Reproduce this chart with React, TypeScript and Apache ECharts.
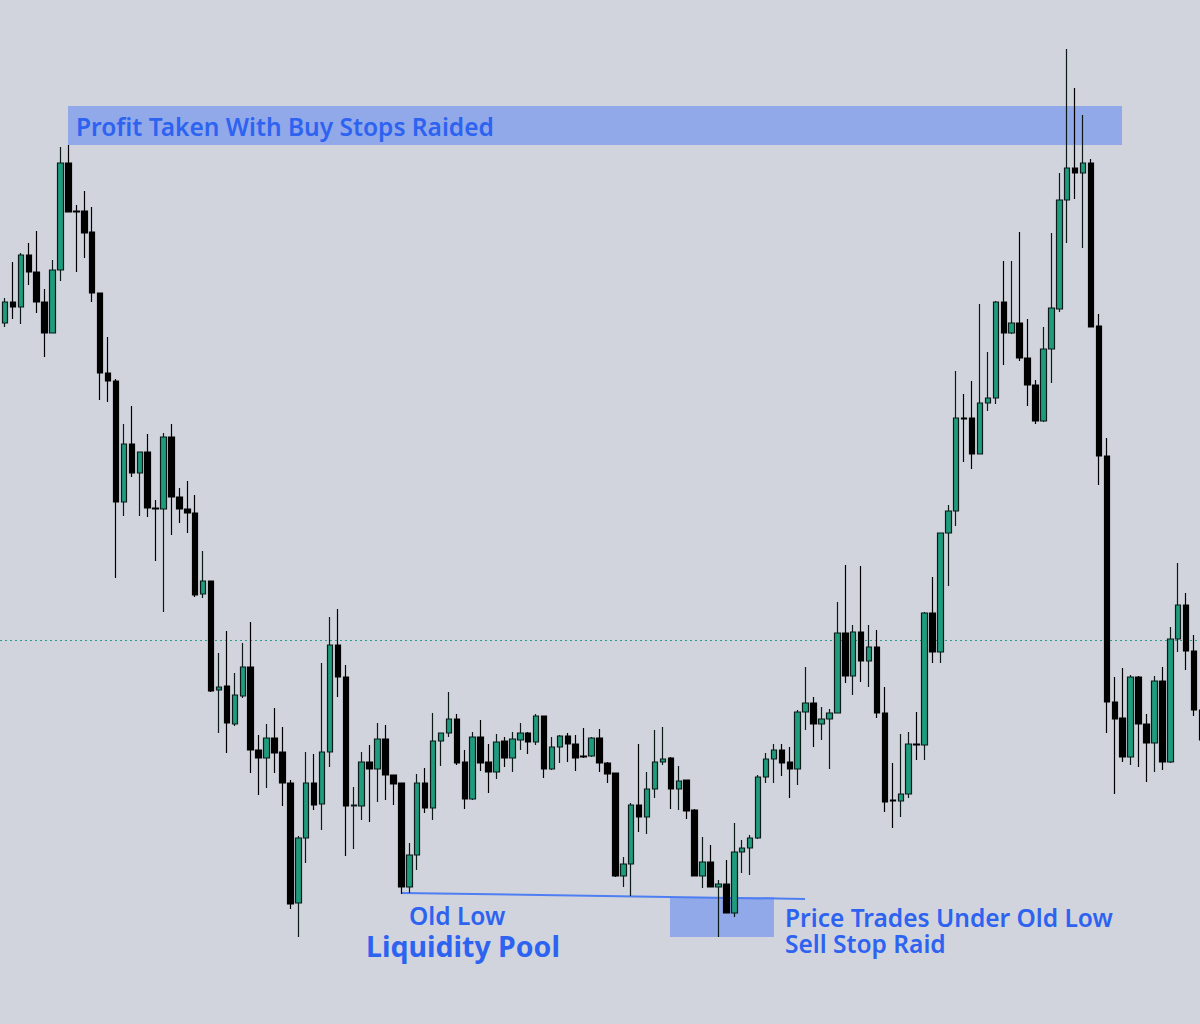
import React, { useEffect, useRef } from "react";
import * as echarts from "echarts";

// Price levels on a downward-growing scale (0 = top of chart, 1024 = bottom),
// so the value axis is inverted. Each candle: open, close, wick top, wick bottom.
const opens = [
  323, 302, 307, 255, 272, 302, 333, 270, 163, 211, 211, 232, 293, 373, 381, 502, 444, 473, 452, 508,
  509, 437, 497, 509, 513, 594, 581, 690, 686, 724, 696, 667, 750, 758, 738, 752, 783, 903, 838, 783,
  804, 752, 645, 677, 806, 806, 762, 769, 739, 775, 783, 887, 855, 783, 808, 741, 733, 719, 762, 799,
  737, 762, 772, 741, 758, 740, 733, 742, 716, 769, 747, 736, 744, 756, 756, 738, 763, 773, 876, 864,
  805, 817, 789, 762, 758, 789, 780, 810, 876, 862, 887, 884, 913, 852, 848, 838, 777, 759, 750, 762,
  769, 712, 703, 724, 719, 713, 633, 676, 632, 661, 647, 713, 800, 801, 794, 744, 745, 613, 652, 533,
  511, 418, 418, 454, 403, 398, 302, 333, 323, 358, 385, 421, 349, 309, 200, 168, 173, 163, 326, 456,
  702, 718, 757, 677, 724, 743, 681, 762, 639, 605, 651, 710,
];
const closes = [
  302, 307, 255, 272, 302, 333, 270, 163, 212, 212, 233, 293, 373, 381, 502, 444, 473, 452, 508, 509,
  437, 497, 509, 513, 595, 581, 691, 687, 723, 695, 667, 750, 758, 738, 753, 783, 904, 838, 783, 805,
  752, 645, 677, 806, 805, 762, 769, 739, 775, 784, 887, 855, 783, 808, 741, 733, 719, 763, 799, 737,
  763, 772, 742, 758, 739, 733, 742, 716, 769, 747, 736, 744, 758, 757, 738, 763, 774, 876, 864, 805,
  817, 789, 762, 759, 789, 781, 811, 876, 862, 887, 884, 913, 852, 848, 838, 777, 759, 750, 763, 769,
  712, 703, 724, 719, 713, 633, 676, 632, 661, 647, 713, 802, 801, 794, 744, 745, 613, 652, 533, 511,
  418, 419, 454, 403, 398, 302, 333, 323, 358, 385, 421, 349, 308, 200, 168, 173, 163, 327, 456, 702,
  719, 757, 677, 724, 743, 681, 762, 639, 605, 651, 710, 740,
];
const wickTops = [
  298, 262, 253, 243, 231, 289, 260, 147, 145, 205, 191, 207, 293, 337, 379, 424, 406, 452, 434, 500,
  433, 424, 488, 481, 495, 551, 581, 653, 631, 673, 643, 622, 735, 724, 708, 727, 780, 836, 752, 754,
  663, 617, 609, 665, 787, 752, 745, 723, 725, 775, 783, 843, 774, 768, 713, 733, 692, 714, 750, 732,
  720, 744, 734, 737, 732, 723, 732, 714, 716, 737, 735, 733, 735, 728, 737, 729, 762, 773, 857, 803,
  744, 772, 730, 727, 757, 766, 780, 809, 837, 845, 880, 860, 823, 840, 835, 775, 753, 744, 744, 747,
  710, 667, 697, 707, 709, 602, 565, 625, 566, 625, 630, 687, 763, 734, 732, 712, 612, 577, 533, 505,
  371, 394, 381, 304, 352, 301, 261, 261, 232, 319, 380, 327, 233, 173, 49, 88, 115, 159, 314, 438,
  677, 668, 675, 676, 714, 676, 667, 627, 563, 593, 635, 705,
];
const wickBottoms = [
  327, 319, 324, 285, 313, 357, 333, 281, 212, 272, 258, 302, 400, 402, 578, 516, 477, 516, 517, 561,
  612, 535, 523, 533, 597, 598, 692, 733, 753, 726, 698, 773, 795, 788, 773, 806, 909, 937, 863, 810,
  830, 767, 697, 856, 849, 820, 822, 802, 800, 805, 894, 893, 870, 813, 820, 766, 737, 765, 809, 800,
  771, 793, 779, 767, 772, 750, 754, 745, 778, 770, 763, 762, 771, 758, 757, 772, 783, 877, 887, 896,
  832, 834, 798, 765, 809, 810, 819, 876, 888, 887, 937, 913, 917, 873, 875, 839, 783, 783, 776, 798,
  785, 730, 747, 740, 769, 713, 683, 695, 682, 687, 718, 812, 828, 817, 798, 760, 760, 663, 663, 586,
  526, 462, 469, 454, 411, 404, 365, 334, 361, 406, 424, 422, 383, 312, 243, 199, 248, 327, 485, 733,
  794, 762, 765, 767, 782, 772, 770, 763, 652, 670, 716, 765,
];
const barIndex = opens.map((_, i) => i);
const marketLevel = 640;
const notes = {
  top: "Profit Taken With Buy Stops Raided",
  oldLow: "Old Low",
  pool: "Liquidity Pool",
  under: "Price Trades Under Old Low",
  raid: "Sell Stop Raid",
};

const BLUE = "#2d63f0";
const BOX = "rgba(41,98,255,0.38)";
const FONT = '"Noto Sans", "DejaVu Sans", sans-serif';

export default function App() {
  const ref = useRef<HTMLDivElement>(null);
  useEffect(() => {
    document.body.style.margin = "0";
    const chart = echarts.init(ref.current!, null, { renderer: "svg" });
    const data = barIndex.map((i) => [i, opens[i], closes[i], wickTops[i], wickBottoms[i]]);
    chart.setOption({
      animation: false,
      backgroundColor: "#d1d4dc",
      grid: { left: 0, top: 0, right: 0, bottom: 0 },
      xAxis: { type: "value", min: -0.63, max: 150.75, show: false, scale: true },
      yAxis: { type: "value", inverse: true, min: 0, max: 1024, show: false },
      series: [
        {
          type: "candlestick",
          data,
          encode: { x: 0, y: [1, 2, 3, 4] },
          barWidth: 6,
          z: 5,
          clip: true,
          itemStyle: {
            // inverted axis: numeric close > open means a falling candle
            color: "#000000",
            color0: "#1f9b7d",
            borderColor: "#000000",
            borderColor0: "#0b1a16",
            borderWidth: 1.2,
          },
          markLine: {
            silent: true,
            symbol: ["none", "none"],
            label: { show: false },
            lineStyle: { color: "#2a9d8f", type: [2, 3], width: 1 },
            data: [{ yAxis: marketLevel }],
          },
        },
      ],
      graphic: [
        { type: "rect", z: 1, shape: { x: 68, y: 106, width: 1054, height: 39 }, style: { fill: BOX } },
        { type: "rect", z: 1, shape: { x: 670, y: 897, width: 104, height: 40 }, style: { fill: BOX } },
        {
          type: "line",
          z: 1,
          shape: { x1: 401, y1: 893, x2: 805, y2: 899 },
          style: { stroke: "#4d7ef2", lineWidth: 2 },
        },
        {
          type: "text",
          z: 20,
          style: { text: notes.top, x: 76, y: 126, fill: BLUE, font: `600 24.5px ${FONT}`, verticalAlign: "middle" },
        },
        {
          type: "text",
          z: 20,
          style: { text: notes.oldLow, x: 409, y: 915.5, fill: BLUE, font: `600 24.5px ${FONT}`, lineHeight: 24, verticalAlign: "middle" },
        },
        {
          type: "text",
          z: 20,
          style: { text: notes.pool, x: 366, y: 946, fill: BLUE, font: `bold 28.5px ${FONT}`, lineHeight: 30, verticalAlign: "middle" },
        },
        {
          type: "text",
          z: 20,
          style: { text: notes.under, x: 785, y: 917, fill: BLUE, font: `600 24.5px ${FONT}`, lineHeight: 24, verticalAlign: "middle" },
        },
        {
          type: "text",
          z: 20,
          style: { text: notes.raid, x: 785, y: 943.5, fill: BLUE, font: `600 24.5px ${FONT}`, lineHeight: 24, verticalAlign: "middle" },
        },
      ],
    });
    return () => chart.dispose();
  }, []);
  return <div ref={ref} style={{ position: "absolute", left: 0, top: 0, width: 1200, height: 1024 }} />;
}
